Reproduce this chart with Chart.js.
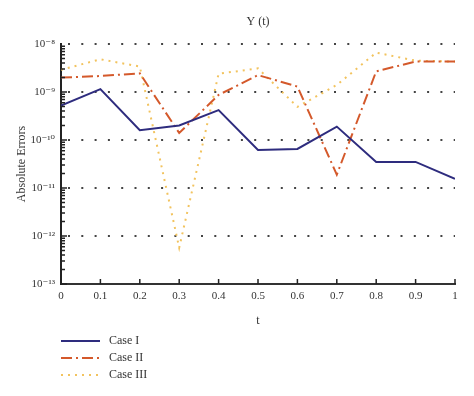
<!DOCTYPE html>
<html>
<head>
<meta charset="utf-8">
<script src="https://cdn.jsdelivr.net/npm/chart.js@4.4.0/dist/chart.umd.min.js"></script>
<style>
  html, body { margin: 0; padding: 0; background: #fff; }
  #wrap { width: 474px; height: 396px; position: relative; }
</style>
</head>
<body>
<div id="wrap"><canvas id="errChart"></canvas></div>
<script>
// values
let tValues = [0, 0.1, 0.2, 0.3, 0.4, 0.5, 0.6, 0.7, 0.8, 0.9, 1];
let caseI   = [5.2e-10, 1.15e-9, 1.6e-10, 2.0e-10, 4.2e-10, 6.2e-11, 6.5e-11, 1.9e-10, 3.5e-11, 3.5e-11, 1.55e-11];
let caseII  = [2.0e-9, 2.15e-9, 2.45e-9, 1.4e-10, 8.7e-10, 2.25e-9, 1.3e-9, 1.9e-11, 2.7e-9, 4.3e-9, 4.3e-9];
let caseIII = [2.9e-9, 4.8e-9, 3.4e-9, 5.7e-13, 2.4e-9, 3.1e-9, 4.9e-10, 1.4e-9, 6.6e-9, 4.5e-9, 4.3e-9];
let seriesNames = ["Case I", "Case II", "Case III"];
let yExponents = [-13, -12, -11, -10, -9, -8];
let xTicks = [0, 0.1, 0.2, 0.3, 0.4, 0.5, 0.6, 0.7, 0.8, 0.9, 1];

const serif = "'Liberation Serif', 'DejaVu Serif', serif";
const sup = {"-": "\u207B", "0": "\u2070", "1": "\u00B9", "2": "\u00B2", "3": "\u00B3",
  "4": "\u2074", "5": "\u2075", "6": "\u2076", "7": "\u2077", "8": "\u2078", "9": "\u2079"};

function pts(vals){
  return tValues.map((t, i) => ({x: t, y: vals[i]}));
}

// inward tick marks and the legend under the axis
const axisMarks = {
  id: "axisMarks",
  afterDraw(chart){
    const {ctx, chartArea: a, scales: {x, y}} = chart;
    ctx.save();
    ctx.strokeStyle = "#222";
    ctx.lineWidth = 1.5;
    ctx.beginPath();
    xTicks.forEach(v => {
      let px = x.getPixelForValue(v);
      ctx.moveTo(px, a.bottom);
      ctx.lineTo(px, a.bottom - 5);
    });
    for (let e = yExponents[0]; e < yExponents[yExponents.length - 1]; e++){
      for (let m = 1; m < 10; m++){
        let py = y.getPixelForValue(m * Math.pow(10, e));
        ctx.moveTo(a.left, py);
        ctx.lineTo(a.left + (m == 1 ? 6 : 4), py);
      }
    }
    ctx.stroke();

    // legend
    chart.data.datasets.forEach((ds, i) => {
      let ly = 341 + i * 17;
      ctx.strokeStyle = ds.borderColor;
      ctx.lineWidth = ds.borderWidth;
      ctx.setLineDash(ds.borderDash || []);
      ctx.beginPath();
      ctx.moveTo(61, ly);
      ctx.lineTo(100, ly);
      ctx.stroke();
      ctx.setLineDash([]);
      ctx.fillStyle = "#333";
      ctx.font = "12px " + serif;
      ctx.textBaseline = "middle";
      ctx.fillText(ds.label, 109, ly);
    });
    ctx.restore();
  }
};

new Chart(document.getElementById("errChart"), {
  type: "line",
  data: {
    datasets: [{
      label: seriesNames[0],
      data: pts(caseI),
      borderColor: "#2e2c7e",
      borderWidth: 2,
      pointRadius: 0
    }, {
      label: seriesNames[1],
      data: pts(caseII),
      borderColor: "#d4592b",
      borderWidth: 2,
      borderDash: [11, 4, 2, 4],
      pointRadius: 0
    }, {
      label: seriesNames[2],
      data: pts(caseIII),
      borderColor: "#f2c35e",
      borderWidth: 2,
      borderDash: [2, 5],
      pointRadius: 0
    }]
  },
  options: {
    responsive: true,
    maintainAspectRatio: false,
    animation: false,
    layout: {padding: {top: 44, right: 19, bottom: 68, left: 0}},
    plugins: {
      legend: {display: false},
      tooltip: {enabled: false},
      title: {display: false}
    },
    scales: {
      x: {
        type: "linear",
        min: 0,
        max: 1,
        afterBuildTicks: s => { s.ticks = xTicks.map(v => ({value: v})); },
        afterFit: s => { s.height = 44; },
        ticks: {
          color: "#333",
          padding: 6,
          font: {family: serif, size: 11},
          callback: v => String(+v.toFixed(1))
        },
        grid: {drawOnChartArea: false, drawTicks: false},
        border: {color: "#333", width: 2},
        title: {display: true, text: "t", color: "#333", font: {family: serif, size: 12}, padding: 0}
      },
      y: {
        type: "logarithmic",
        min: 1e-13,
        max: 1e-8,
        afterBuildTicks: s => { s.ticks = yExponents.map(e => ({value: Math.pow(10, e)})); },
        afterFit: s => { s.width = 61; },
        ticks: {
          color: "#333",
          padding: 6,
          font: {family: serif, size: 11},
          callback: v => "10" + String(Math.round(Math.log10(v))).split("").map(c => sup[c]).join("")
        },
        grid: {color: "#444", lineWidth: 2, drawTicks: false},
        border: {color: "#222", width: 2, dash: [2, 11.3], dashOffset: -6},
        title: {display: true, text: "Absolute Errors", color: "#333", font: {family: serif, size: 12}, padding: {top: 15, bottom: 0}}
      }
    }
  },
  plugins: [axisMarks, {
    id: "topTitle",
    afterDraw(chart){
      const ctx = chart.ctx;
      ctx.save();
      ctx.fillStyle = "#333";
      ctx.font = "12px " + serif;
      ctx.textAlign = "center";
      ctx.textBaseline = "middle";
      ctx.fillText("Y (t)", (chart.chartArea.left + chart.chartArea.right) / 2, 22);
      ctx.restore();
    }
  }]
});
</script>
</body>
</html>
